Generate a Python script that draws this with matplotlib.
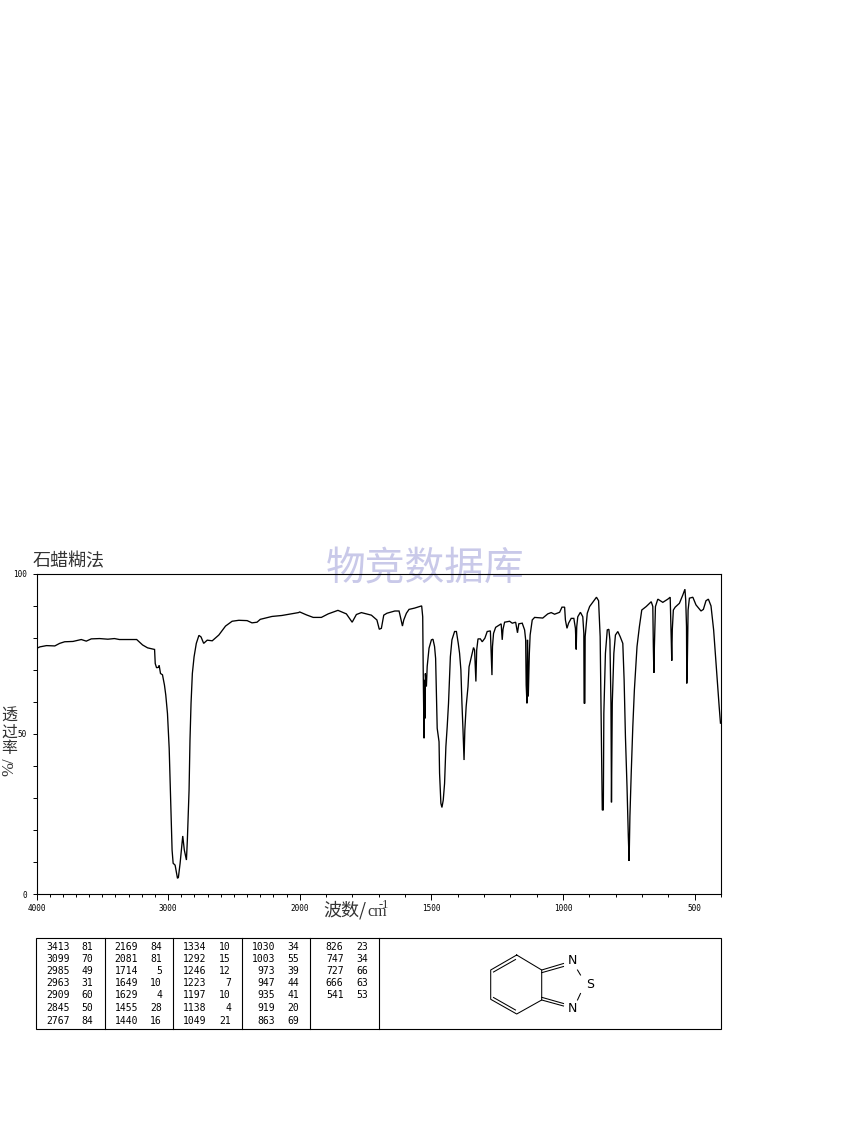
import matplotlib
matplotlib.use("Agg")
import matplotlib.pyplot as plt
import numpy as np

CJK = ['Noto Sans CJK SC', 'DejaVu Sans']
MONO = 'DejaVu Sans Mono'

wn_high = [4000,3975,3924,3861,3824,3786,3723,3660,3622,3584,3521,3458,3408,3370,3239,3194,3156,3103,3098,3088,3075,3068,3058,3043,3028,3018,3005,2992,2985,2977,2970,2962,2947,2929,2922,2909,2897,2889,2877,2861,2854,2841,2834,2826,2816,2803,2786,2766,2750,2730,2703,2665,2615,2564,2514,2463,2400,2363,2325,2300,2211,2136,2010]
t_high = [76.6,77.1,77.5,77.4,78.2,78.7,78.8,79.4,78.9,79.6,79.7,79.5,79.7,79.4,79.4,77.7,76.8,76.3,71.9,70.6,70.7,71.3,68.8,68.4,65.2,62.1,56.3,45.4,35,24.1,13.7,9.6,9,4.9,5.2,9.6,14.8,18.1,13.7,10.6,16.8,32.4,48,59.5,68.8,74,78.2,80.7,80.2,78.2,79.2,79,80.8,83.6,85.1,85.4,85.3,84.6,84.8,85.7,86.6,86.9,87.8]

wn_mid = [2000,1975,1949,1918,1892,1855,1823,1801,1785,1766,1728,1707,1698,1690,1681,1669,1639,1623]
t_mid = [88.0,87.1,86.3,86.3,87.4,88.5,87.4,84.8,87.2,87.8,87,85.5,82.6,82.9,87,87.6,88.3,88.3]

wn_finger = [1620,1610,1605,1595,1585,1564,1537,1533,1531,1528,1526,1524,1523,1519,1516,1509,1500,1494,1488,1484,1481,1478,1471,1469,1464,1460,1455,1450,1445,1440,1435,1428,1422,1412,1405,1398,1393,1388,1384,1380,1376,1373,1368,1361,1357,1348,1340,1336,1333,1331,1328,1323,1314,1307,1297,1288,1276,1273,1270,1268,1264,1256,1235,1231,1228,1222,1203,1193,1180,1173,1168,1155,1146,1142,1140,1137,1135,1132,1128,1125,1117,1108,1077,1058,1045]
t_finger = [87.3,83.6,85.5,87.6,88.8,89.2,89.9,86.5,68.8,48.6,66.8,54.8,68.8,64.7,71,76.7,79.3,79.5,77.2,73.5,62.6,51.7,47.5,37.7,28.3,27,29.3,34.5,46,52.2,59.5,74,79.3,81.9,81.9,78.2,75.1,69.9,59.5,51.2,41.8,51.2,58.5,64.7,70.9,74,76.9,76.1,70.4,66.3,76.1,79.6,79.6,78.7,79.8,81.9,82.1,75.1,68.3,77.2,81.3,83.2,84.3,79.3,82.6,84.8,85.1,84.5,84.8,81.5,84.3,84.5,82.4,79.3,65.2,59.5,79.3,61.6,75.1,80.8,85.5,86.3,86.1,87.4,87.8]

wn_low = [1032,1013,1004,994,991,985,979,969,959,953,950,948,944,934,925,921,920,917,916,908,899,883,873,865,859,855,851,847,845,839,832,826,822,818,816,813,807,801,792,783,773,768,763,757,752,749,746,741,735,729,719,710,701,684,665,659,657,655,653,649,640,621,602,593,590,587,585,581,574,558,545,537,534,531,530,528,525,520,507,495,476,467,457,448,438,428,419,413,407,402]
t_low = [87.3,87.9,89.5,89.5,85.5,82.9,84.5,86,86,82.9,76.3,83.4,86.5,87.9,86.5,81.3,59.5,59.5,80.3,87.6,89.7,91.5,92.6,91.5,80.3,52.2,26.2,26.2,56.4,75.1,82.4,82.6,79.3,59.5,28.6,59.5,75.1,80.8,81.9,80.3,78.2,66.8,49.1,33.5,17.9,10.3,24.1,37.7,52.2,63.7,77.2,83.4,88.6,89.7,91.2,89.7,77.2,69,77.2,89.7,92,91,92,92.6,82.4,72.8,82.4,88.6,89.5,90.7,93.3,95.1,91.7,83.4,65.7,71,88.6,92.3,92.6,90.2,88.3,88.8,91.5,92,89.9,82.4,72,64.7,58.5,53.3]

x_major = [4000, 3000, 2000, 1500, 1000, 500]
x_minor = list(range(3900, 300, -100))
y_major = [0, 50, 100]
y_minor = list(range(10, 100, 10))

peak_columns = [
    ([3413,3099,2985,2963,2909,2845,2767], [81,70,49,31,60,50,84]),
    ([2169,2081,1714,1649,1629,1455,1440], [84,81,5,10,4,28,16]),
    ([1334,1292,1246,1223,1197,1138,1049], [10,15,12,7,10,4,21]),
    ([1030,1003,973,947,935,919,863], [34,55,39,44,41,20,69]),
    ([826,747,727,666,541], [23,34,66,63,53]),
]

W, H = 850, 1134
fig = plt.figure(figsize=(W/100, H/100), dpi=100, facecolor='white')

# overlay in pixel coordinates, for the table, the formula and the loose labels
ov = fig.add_axes([0, 0, 1, 1], zorder=0)
ov.set_xlim(0, W); ov.set_ylim(H, 0); ov.axis('off')

ax = fig.add_axes([36.5/W, 1-894/H, (721-36.5)/W, (894-573.5)/H], zorder=2)
ax.patch.set_alpha(0)

def fwd(w):
    w = np.asarray(w, dtype=float)
    return np.where(w >= 2000, 2000 + (w-2000)*0.5, w)

def inv(u):
    u = np.asarray(u, dtype=float)
    return np.where(u >= 2000, 2000 + (u-2000)*2.0, u)

ax.set_xscale('function', functions=(fwd, inv))
ax.set_xlim(4000, 400)
ax.set_ylim(0, 100)

wn = wn_high + wn_mid + wn_finger + wn_low
tr = t_high + t_mid + t_finger + t_low
ax.plot(wn, tr, color='black', lw=0.95, solid_joinstyle='miter', clip_on=True)

ax.set_xticks(x_major)
ax.set_xticks([v for v in x_minor if v not in x_major], minor=True)
ax.set_xticklabels([str(v) for v in x_major], fontfamily=MONO, fontsize=5.5)
ax.set_yticks(y_major)
ax.set_yticks(y_minor, minor=True)
ax.set_yticklabels([str(v) for v in y_major], fontfamily=MONO, fontsize=5.5)
ax.tick_params(axis='x', which='major', direction='out', length=4, width=0.7, pad=3.5)
ax.tick_params(axis='x', which='minor', direction='out', length=2, width=0.7)
ax.tick_params(axis='y', which='both', direction='out', length=3, width=0.7, pad=4)
for s in ax.spines.values():
    s.set_linewidth(0.8)

# watermark and title
ov.text(425.5, 569, '物竞数据库', family=CJK, fontsize=28.6, color='#c9c9e9', ha='center', va='center')
ov.text(33, 561.5, '石蜡糊法', family=CJK, fontsize=13, color='#333333', ha='left', va='center')

# y label
for ypos, ch in zip([716, 732, 748], '透过率'):
    ov.text(9.5, ypos, ch, family=CJK, fontsize=11.5, color='#333333', ha='center', va='center')
ov.text(9.5, 767, '%/', family='Liberation Serif', fontsize=12, color='#333333', rotation=90, ha='center', va='center')

# x label
ov.text(344.5, 910.5, '波数/', family=CJK, fontsize=13, color='#333333', ha='center', va='center')
ov.text(367, 911.5, 'cm', family='Liberation Serif', fontsize=11.5, color='#333333', ha='left', va='center')
ov.text(384, 905, '-1', family='Liberation Serif', fontsize=9, color='#333333', ha='center', va='center')

# peak table
ov.add_patch(plt.Rectangle((36.5, 937.5), 684.5, 91.5, fill=False, ec='black', lw=0.8))
for xs in [105.5, 173.5, 242.5, 310.5, 379.5]:
    ov.plot([xs, xs], [937.5, 1029], color='black', lw=0.8)
row_y = [946.5, 959, 971, 983, 995.5, 1008, 1020.5]
wn_right = [69.5, 138, 206, 275, 343.5]
t_right = [93.5, 162, 231, 299.5, 368]
for (ws, ts), xw, xt in zip(peak_columns, wn_right, t_right):
    for y, a, b in zip(row_y, ws, ts):
        ov.text(xw, y, str(a), family=MONO, fontsize=7, ha='right', va='center', color='black')
        ov.text(xt, y, str(b), family=MONO, fontsize=7, ha='right', va='center', color='black')

# benzothiadiazole formula
ring_x = [516.7, 541.7, 541.7, 516.7, 490.7, 490.7, 516.7]
ring_y = [955, 970, 1000, 1014, 999.3, 970, 955]
ov.plot(ring_x, ring_y, color='black', lw=0.75)
ov.plot([493.5, 515.5], [972, 959.5], color='black', lw=0.75)
ov.plot([493.5, 515.5], [997.5, 1010], color='black', lw=0.75)
ov.plot([541.7, 563.5], [970, 963.5], color='black', lw=0.75)
ov.plot([541.7, 563.5], [972.7, 966.5], color='black', lw=0.75)
ov.plot([541.7, 563.5], [1000, 1006], color='black', lw=0.75)
ov.plot([541.7, 563.5], [997.3, 1003.5], color='black', lw=0.75)
ov.plot([577.5, 580.5], [970, 975], color='black', lw=0.75)
ov.plot([577.5, 580.5], [1000, 993.5], color='black', lw=0.75)
ov.text(572.5, 960.5, 'N', family='DejaVu Sans', fontsize=9, ha='center', va='center')
ov.text(572.5, 1009, 'N', family='DejaVu Sans', fontsize=9, ha='center', va='center')
ov.text(590, 985, 'S', family='DejaVu Sans', fontsize=9, ha='center', va='center')

fig.savefig('out.png', dpi=100, facecolor='white')
